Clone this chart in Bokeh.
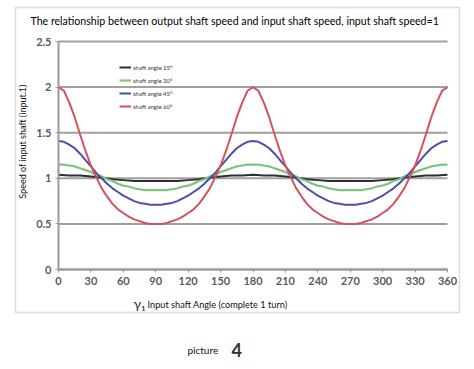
from bokeh.plotting import figure
from bokeh.models import Label, FixedTicker, BoxAnnotation, Legend, LegendItem, Range1d, LinearAxis
from bokeh.embed import file_html
from bokeh.resources import INLINE

title_text = "The relationship between output shaft speed and input shaft speed, input shaft speed=1"
x_title = "Input shaft Angle (complete 1 turn)"
y_title = "Speed of input shaft (input.1)"
caption = "picture"
caption_num = "4"

x_ticks = [0, 30, 60, 90, 120, 150, 180, 210, 240, 270, 300, 330, 360]
y_ticks = [0, 0.5, 1, 1.5, 2, 2.5]
y_tick_labels = ["0", "0.5", "1", "1.5", "2", "2.5"]

series_names = ["shaft angle 15°", "shaft angle 30°", "shaft angle 45°", "shaft angle 60°"]

angle_10 = [0, 10, 20, 30, 40, 50, 60, 70, 80, 90, 100, 110, 120, 130, 140, 150, 160, 170, 180,
            190, 200, 210, 220, 230, 240, 250, 260, 270, 280, 290, 300, 310, 320, 330, 340, 350, 360]
angle_5 = [0, 5, 10, 15, 20, 25, 30, 35, 40, 45, 50, 55, 60, 65, 70, 75, 80, 85, 90,
           95, 100, 105, 110, 115, 120, 125, 130, 135, 140, 145, 150, 155, 160, 165, 170, 175, 180,
           185, 190, 195, 200, 205, 210, 215, 220, 225, 230, 235, 240, 245, 250, 255, 260, 265, 270,
           275, 280, 285, 290, 295, 300, 305, 310, 315, 320, 325, 330, 335, 340, 345, 350, 355, 360]

speed_15 = [1.04, 1.03, 1.03, 1.02, 1.01, 0.99, 0.98, 0.97, 0.97, 0.97, 0.97, 0.97, 0.98, 0.99, 1.01, 1.02, 1.03, 1.03, 1.04,
            1.03, 1.03, 1.02, 1.01, 0.99, 0.98, 0.97, 0.97, 0.97, 0.97, 0.97, 0.98, 0.99, 1.01, 1.02, 1.03, 1.03, 1.04]
speed_30 = [1.15, 1.15, 1.14, 1.13, 1.11, 1.09, 1.07, 1.04, 1.02, 0.99, 0.97, 0.94, 0.92, 0.91, 0.89, 0.88, 0.87, 0.87, 0.87,
            0.87, 0.87, 0.88, 0.89, 0.91, 0.92, 0.94, 0.97, 0.99, 1.02, 1.04, 1.07, 1.09, 1.11, 1.13, 1.14, 1.15, 1.15,
            1.15, 1.14, 1.13, 1.11, 1.09, 1.07, 1.04, 1.02, 0.99, 0.97, 0.94, 0.92, 0.91, 0.89, 0.88, 0.87, 0.87, 0.87,
            0.87, 0.87, 0.88, 0.89, 0.91, 0.92, 0.94, 0.97, 0.99, 1.02, 1.04, 1.07, 1.09, 1.11, 1.13, 1.14, 1.15, 1.15]
speed_45 = [1.41, 1.40, 1.37, 1.33, 1.27, 1.20, 1.13, 1.06, 1.00, 0.94, 0.89, 0.85, 0.81, 0.78, 0.75, 0.73, 0.72, 0.71, 0.71,
            0.71, 0.72, 0.73, 0.75, 0.78, 0.81, 0.85, 0.89, 0.94, 1.00, 1.06, 1.13, 1.20, 1.27, 1.33, 1.37, 1.40, 1.41,
            1.40, 1.37, 1.33, 1.27, 1.20, 1.13, 1.06, 1.00, 0.94, 0.89, 0.85, 0.81, 0.78, 0.75, 0.73, 0.72, 0.71, 0.71,
            0.71, 0.72, 0.73, 0.75, 0.78, 0.81, 0.85, 0.89, 0.94, 1.00, 1.06, 1.13, 1.20, 1.27, 1.33, 1.37, 1.40, 1.41]
speed_60 = [2.00, 1.96, 1.83, 1.67, 1.48, 1.30, 1.14, 1.01, 0.89, 0.80, 0.72, 0.66, 0.62, 0.58, 0.55, 0.53, 0.51, 0.50, 0.50,
            0.50, 0.51, 0.53, 0.55, 0.58, 0.62, 0.66, 0.72, 0.80, 0.89, 1.01, 1.14, 1.30, 1.48, 1.67, 1.83, 1.96, 2.00,
            1.96, 1.83, 1.67, 1.48, 1.30, 1.14, 1.01, 0.89, 0.80, 0.72, 0.66, 0.62, 0.58, 0.55, 0.53, 0.51, 0.50, 0.50,
            0.50, 0.51, 0.53, 0.55, 0.58, 0.62, 0.66, 0.72, 0.80, 0.89, 1.01, 1.14, 1.30, 1.48, 1.67, 1.83, 1.96, 2.00]

colors = ["#2e2e2e", "#7cc67c", "#4b4fa8", "#d4525e"]
FONT = "Lato"

W, H = 474, 369
# plot area: x 0..360 -> px 58..447, y 0..2.5 -> px 269..41 (frame covers the whole canvas)
px_per_deg = (447 - 58) / 360.0
px_per_unit = (269 - 41) / 2.5
x_range = Range1d(-58 / px_per_deg, 360 + (W - 447) / px_per_deg)
y_range = Range1d(-(H - 269) / px_per_unit, 269 / px_per_unit)

p = figure(width=W, height=H, output_backend="svg", toolbar_location=None,
           x_range=x_range, y_range=y_range, x_axis_type=None, y_axis_type=None,
           min_border_left=0, min_border_right=0, min_border_top=0, min_border_bottom=0)
p.background_fill_color = "white"
p.border_fill_color = "white"
p.outline_line_color = None
p.grid.visible = False

# horizontal grid lines between first and last x tick
p.segment(x0=[x_ticks[0]] * len(y_ticks), x1=[x_ticks[-1]] * len(y_ticks), y0=y_ticks, y1=y_ticks,
          line_color="#a0a0a0", line_width=2)

r15 = p.line(angle_10, speed_15, line_color=colors[0], line_width=2)
r30 = p.line(angle_5, speed_30, line_color=colors[1], line_width=2.2)
r45 = p.line(angle_5, speed_45, line_color=colors[2], line_width=2)
r60 = p.line(angle_5, speed_60, line_color=colors[3], line_width=2)

xaxis = LinearAxis(fixed_location=0, bounds=(x_ticks[0], x_ticks[-1]), ticker=FixedTicker(ticks=x_ticks))
yaxis = LinearAxis(fixed_location=0, bounds=(y_ticks[0], y_ticks[-1]), ticker=FixedTicker(ticks=y_ticks))
yaxis.major_label_overrides = {t: s for t, s in zip(y_ticks, y_tick_labels)}
for ax in (xaxis, yaxis):
    ax.axis_line_color = "#9a9a9a"
    ax.axis_line_width = 2
    ax.major_tick_line_color = "#9a9a9a"
    ax.major_tick_out = 3
    ax.major_tick_in = 0
    ax.minor_tick_line_color = None
    ax.major_label_text_font = FONT
    ax.major_label_text_font_size = "11px"
    ax.major_label_text_font_style = "bold"
    ax.major_label_text_color = "#5a5a5a"
xaxis.major_label_standoff = 4
yaxis.major_label_standoff = 4
p.add_layout(xaxis, "below")
p.add_layout(yaxis, "left")

legend = Legend(items=[LegendItem(label=series_names[0], renderers=[r15]),
                       LegendItem(label=series_names[1], renderers=[r30]),
                       LegendItem(label=series_names[2], renderers=[r45]),
                       LegendItem(label=series_names[3], renderers=[r60])],
                location=(119, 257))
legend.label_text_font = FONT
legend.label_text_font_size = "6px"
legend.label_text_color = "#333333"
legend.glyph_width = 12
legend.glyph_height = 12
legend.label_height = 12
legend.label_standoff = 2
legend.spacing = 1
legend.padding = 2
legend.margin = 0
legend.border_line_color = None
legend.background_fill_alpha = 0
p.add_layout(legend)

# outer frame (screen units from canvas bottom-left)
p.add_layout(BoxAnnotation(left=15, right=459, bottom=H - 312, top=H - 7,
                           left_units="screen", right_units="screen",
                           bottom_units="screen", top_units="screen",
                           fill_alpha=0, line_color="#8a8a8a", line_width=1.5))

p.add_layout(Label(x=30, y=H - 20, x_units="screen", y_units="screen", text=title_text,
                   text_font=FONT, text_font_size="10.6px", text_color="#000000",
                   text_align="left", text_baseline="middle"))
p.add_layout(Label(x=22, y=H - 141, x_units="screen", y_units="screen", text=y_title, angle=1.5708,
                   text_font=FONT, text_font_size="9px", text_color="#111111",
                   text_align="center", text_baseline="middle"))
p.add_layout(Label(x=133, y=H - 303, x_units="screen", y_units="screen", text="γ₁",
                   text_font=FONT, text_font_size="14px", text_color="#333333",
                   text_align="left", text_baseline="middle"))
p.add_layout(Label(x=147, y=H - 304, x_units="screen", y_units="screen", text=x_title,
                   text_font=FONT, text_font_size="9.2px", text_color="#111111",
                   text_align="left", text_baseline="middle"))
p.add_layout(Label(x=187, y=H - 349, x_units="screen", y_units="screen", text=caption,
                   text_font=FONT, text_font_size="10px", text_color="#111111",
                   text_align="left", text_baseline="middle"))
p.add_layout(Label(x=231, y=H - 349, x_units="screen", y_units="screen", text=caption_num,
                   text_font=FONT, text_font_size="18px", text_font_style="bold", text_color="#333333",
                   text_align="left", text_baseline="middle"))

open("out.html", "w").write(file_html(p, INLINE))
